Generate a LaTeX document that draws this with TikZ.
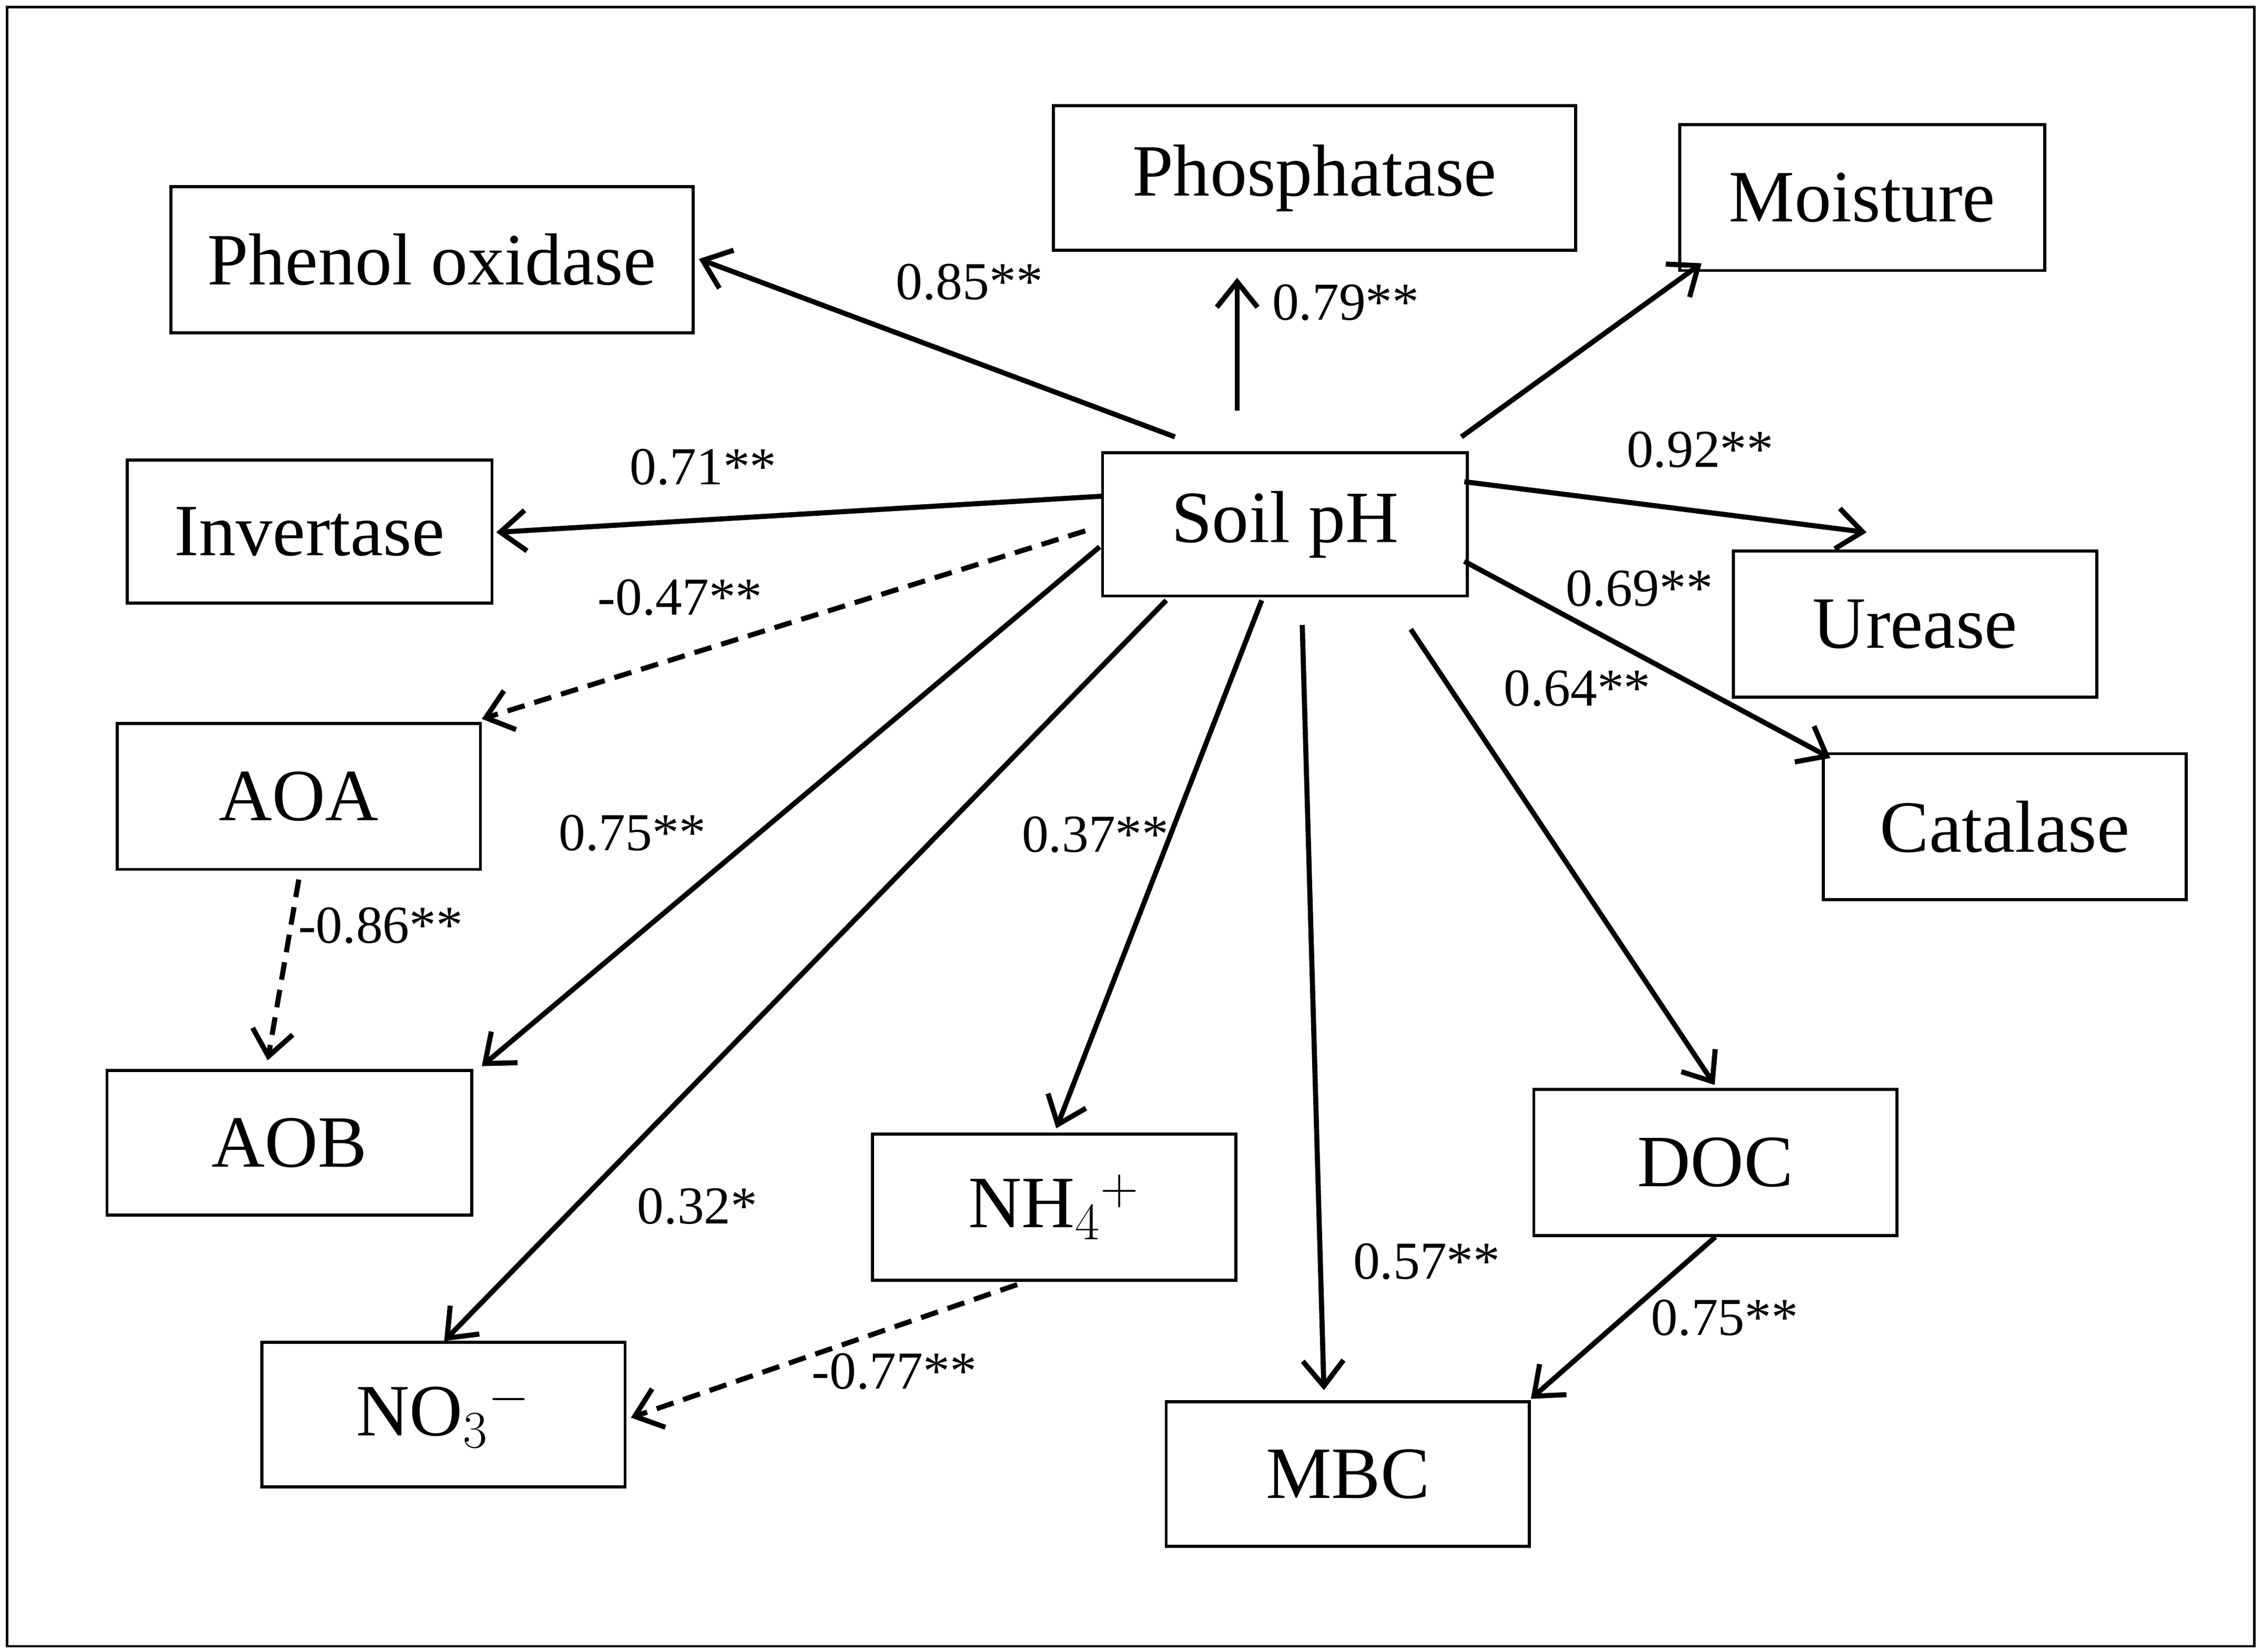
\documentclass[tikz,border=0pt]{standalone}
\usepackage{fontspec}
\setmainfont{Liberation Serif}
\usetikzlibrary{arrows.meta}
\begin{document}
\begin{tikzpicture}[x=0.02cm,y=-0.02cm,
  box/.style={draw,line width=1.2pt,inner sep=0pt,font=\fontsize{29}{32}\selectfont},
  lab/.style={font=\fontsize{21}{24}\selectfont,inner sep=0pt},
  arr/.style={line width=2pt,-{Straight Barb[length=10pt,width=16pt,line width=2pt]}},
  darr/.style={arr,dash pattern=on 7pt off 4pt}]
\useasboundingbox (0,0) rectangle (1564,1142);
\draw[line width=1pt] (5,5) rectangle (1558,1138);
\newcommand{\bx}[6]{\node[box,minimum width={(#4-#2)*0.02cm},minimum height={(#5-#3)*0.02cm}] (#1) at ({(#2+#4)/2},{(#3+#5)/2}) {#6};}
\bx{po}{118}{129}{479}{230}{Phenol oxidase}
\bx{ph}{728}{73}{1089}{173}{Phosphatase}
\bx{mo}{1161}{86}{1413}{187}{Moisture}
\bx{inv}{88}{318}{340}{417}{Invertase}
\bx{sp}{762}{313}{1014}{412}{Soil pH}
\bx{ur}{1198}{381}{1449}{482}{Urease}
\bx{aoa}{81}{500}{332}{601}{AOA}
\bx{cat}{1260}{521}{1511}{622}{Catalase}
\bx{aob}{74}{740}{326}{840}{AOB}
\bx{doc}{1060}{753}{1311}{854}{DOC}
\bx{nh}{603}{784}{854}{885}{NH$_4$$^+$}
\bx{no}{181}{928}{432}{1028}{NO$_3$$^-$}
\bx{mbc}{806}{969}{1057}{1069}{MBC}
\draw[arr] (812,302) coordinate (s1) -- (483,179) coordinate (e1);
\draw[arr] (855,284) coordinate (s2) -- (855,192) coordinate (e2);
\draw[arr] (1010,302) coordinate (s3) -- (1176,182) coordinate (e3);
\draw[arr] (1012,333) coordinate (s4) -- (1290,368) coordinate (e4);
\draw[arr] (762,343) coordinate (s5) -- (343,368) coordinate (e5);
\draw[darr] (750,367) coordinate (s6) -- (333,497) coordinate (e6);
\draw[arr] (1012,388) coordinate (s7) -- (1265,524) coordinate (e7);
\draw[arr] (760,378) coordinate (s8) -- (333,737) coordinate (e8);
\draw[arr] (806,415) coordinate (s9) -- (307,927) coordinate (e9);
\draw[arr] (872,415) coordinate (s10) -- (730,780) coordinate (e10);
\draw[arr] (900,432) coordinate (s11) -- (915,961) coordinate (e11);
\draw[arr] (975,435) coordinate (s12) -- (1185,750) coordinate (e12);
\draw[arr] (doc.south) -- (1058,967) coordinate (e13);
\draw[darr] (aoa.south) ++(0,6) -- (185,733) coordinate (e14);
\draw[darr] (703,888) coordinate (s15) -- (436,980) coordinate (e15);
\node[lab] at (670,195) {0.85**};
\node[lab] at (930,209) {0.79**};
\node[lab] at (1175,311) {0.92**};
\node[lab] at (486,323) {0.71**};
\node[lab] at (470,413) {-0.47**};
\node[lab] at (1133,407) {0.69**};
\node[lab] at (1090,476) {0.64**};
\node[lab] at (437,576) {0.75**};
\node[lab] at (482,834) {0.32*};
\node[lab] at (757,577) {0.37**};
\node[lab] at (986,872) {0.57**};
\node[lab] at (1192,911) {0.75**};
\node[lab] at (263,640) {-0.86**};
\node[lab] at (618,948) {-0.77**};
\end{tikzpicture}
\end{document}
